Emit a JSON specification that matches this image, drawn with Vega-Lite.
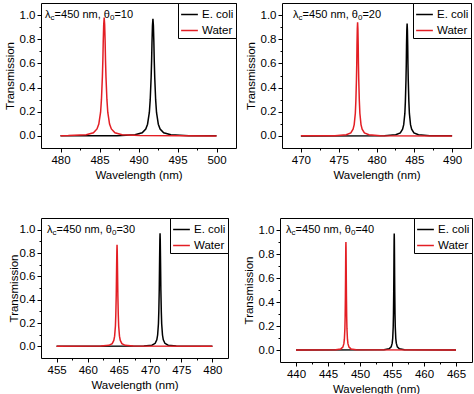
{
  "$schema": "https://vega.github.io/schema/vega-lite/v6.json",
  "padding": {"left": 3, "top": 2, "right": 0, "bottom": 0},
  "config": {
    "font": "Liberation Sans",
    "view": {"stroke": "#000000", "strokeWidth": 1},
    "axis": {"domain": false, "grid": false, "tickColor": "#000000", "tickSize": 4, "tickWidth": 1, "tickCount": 100, "labelFont": "Liberation Sans", "labelFontSize": 11.5, "labelColor": "#000000", "labelPadding": 2, "labelOverlap": false, "titleFont": "Liberation Sans", "titleFontSize": 11.5, "titleFontWeight": "normal", "titleColor": "#000000", "titlePadding": 4},
    "legend": {"labelFont": "Liberation Sans", "labelFontSize": 11.5, "labelColor": "#000000", "symbolType": "stroke", "symbolStrokeWidth": 1.5, "symbolSize": 280, "strokeColor": "#000000", "fillColor": "#ffffff", "padding": 2, "offset": 0, "rowPadding": 1, "labelOffset": 3, "cornerRadius": 0, "labelLimit": 100},
    "line": {"strokeWidth": 1.5},
    "text": {"font": "Liberation Sans", "fontSize": 11, "color": "#000000", "align": "left", "baseline": "middle"}
  },
  "datasets": {
    "p1": [
      {"s": "E. coli", "x": 480, "y": 0.0004}, {"s": "E. coli", "x": 487.25, "y": 0.0024}, {"s": "E. coli", "x": 489.55, "y": 0.0096}, {"s": "E. coli", "x": 490.47, "y": 0.026}, {"s": "E. coli", "x": 490.93, "y": 0.057}, {"s": "E. coli", "x": 491.16, "y": 0.097}, {"s": "E. coli", "x": 491.39, "y": 0.194}, {"s": "E. coli", "x": 491.5, "y": 0.298}, {"s": "E. coli", "x": 491.62, "y": 0.485}, {"s": "E. coli", "x": 491.68, "y": 0.621}, {"s": "E. coli", "x": 491.73, "y": 0.776}, {"s": "E. coli", "x": 491.79, "y": 0.913}, {"s": "E. coli", "x": 491.85, "y": 0.97}, {"s": "E. coli", "x": 491.91, "y": 0.913}, {"s": "E. coli", "x": 491.97, "y": 0.776}, {"s": "E. coli", "x": 492.02, "y": 0.621}, {"s": "E. coli", "x": 492.08, "y": 0.485}, {"s": "E. coli", "x": 492.2, "y": 0.298}, {"s": "E. coli", "x": 492.31, "y": 0.194}, {"s": "E. coli", "x": 492.54, "y": 0.097}, {"s": "E. coli", "x": 492.77, "y": 0.057}, {"s": "E. coli", "x": 493.23, "y": 0.026}, {"s": "E. coli", "x": 494.15, "y": 0.0096}, {"s": "E. coli", "x": 496.45, "y": 0.0024}, {"s": "E. coli", "x": 500, "y": 0.0008},
      {"s": "Water", "x": 480, "y": 0.0017}, {"s": "Water", "x": 481, "y": 0.0025}, {"s": "Water", "x": 483.3, "y": 0.0097}, {"s": "Water", "x": 484.22, "y": 0.026}, {"s": "Water", "x": 484.68, "y": 0.058}, {"s": "Water", "x": 484.91, "y": 0.098}, {"s": "Water", "x": 485.14, "y": 0.196}, {"s": "Water", "x": 485.25, "y": 0.302}, {"s": "Water", "x": 485.37, "y": 0.49}, {"s": "Water", "x": 485.43, "y": 0.627}, {"s": "Water", "x": 485.48, "y": 0.784}, {"s": "Water", "x": 485.54, "y": 0.922}, {"s": "Water", "x": 485.6, "y": 0.98}, {"s": "Water", "x": 485.66, "y": 0.922}, {"s": "Water", "x": 485.72, "y": 0.784}, {"s": "Water", "x": 485.77, "y": 0.627}, {"s": "Water", "x": 485.83, "y": 0.49}, {"s": "Water", "x": 485.95, "y": 0.302}, {"s": "Water", "x": 486.06, "y": 0.196}, {"s": "Water", "x": 486.29, "y": 0.098}, {"s": "Water", "x": 486.52, "y": 0.058}, {"s": "Water", "x": 486.98, "y": 0.026}, {"s": "Water", "x": 487.9, "y": 0.0097}, {"s": "Water", "x": 490.2, "y": 0.0025}, {"s": "Water", "x": 500, "y": 0.0003}
    ],
    "p2": [
      {"s": "E. coli", "x": 470, "y": 0.0001}, {"s": "E. coli", "x": 481.05, "y": 0.0023}, {"s": "E. coli", "x": 482.55, "y": 0.0092}, {"s": "E. coli", "x": 483.15, "y": 0.025}, {"s": "E. coli", "x": 483.45, "y": 0.055}, {"s": "E. coli", "x": 483.6, "y": 0.093}, {"s": "E. coli", "x": 483.75, "y": 0.186}, {"s": "E. coli", "x": 483.82, "y": 0.286}, {"s": "E. coli", "x": 483.9, "y": 0.465}, {"s": "E. coli", "x": 483.94, "y": 0.595}, {"s": "E. coli", "x": 483.97, "y": 0.744}, {"s": "E. coli", "x": 484.01, "y": 0.875}, {"s": "E. coli", "x": 484.05, "y": 0.93}, {"s": "E. coli", "x": 484.09, "y": 0.875}, {"s": "E. coli", "x": 484.13, "y": 0.744}, {"s": "E. coli", "x": 484.16, "y": 0.595}, {"s": "E. coli", "x": 484.2, "y": 0.465}, {"s": "E. coli", "x": 484.28, "y": 0.286}, {"s": "E. coli", "x": 484.35, "y": 0.186}, {"s": "E. coli", "x": 484.5, "y": 0.093}, {"s": "E. coli", "x": 484.65, "y": 0.055}, {"s": "E. coli", "x": 484.95, "y": 0.025}, {"s": "E. coli", "x": 485.55, "y": 0.0092}, {"s": "E. coli", "x": 487.05, "y": 0.0023}, {"s": "E. coli", "x": 490, "y": 0.0006},
      {"s": "Water", "x": 470, "y": 0.0004}, {"s": "Water", "x": 474.5, "y": 0.0023}, {"s": "Water", "x": 476.0, "y": 0.0093}, {"s": "Water", "x": 476.6, "y": 0.025}, {"s": "Water", "x": 476.9, "y": 0.055}, {"s": "Water", "x": 477.05, "y": 0.094}, {"s": "Water", "x": 477.2, "y": 0.188}, {"s": "Water", "x": 477.27, "y": 0.289}, {"s": "Water", "x": 477.35, "y": 0.47}, {"s": "Water", "x": 477.39, "y": 0.602}, {"s": "Water", "x": 477.42, "y": 0.752}, {"s": "Water", "x": 477.46, "y": 0.885}, {"s": "Water", "x": 477.5, "y": 0.94}, {"s": "Water", "x": 477.54, "y": 0.885}, {"s": "Water", "x": 477.58, "y": 0.752}, {"s": "Water", "x": 477.61, "y": 0.602}, {"s": "Water", "x": 477.65, "y": 0.47}, {"s": "Water", "x": 477.73, "y": 0.289}, {"s": "Water", "x": 477.8, "y": 0.188}, {"s": "Water", "x": 477.95, "y": 0.094}, {"s": "Water", "x": 478.1, "y": 0.055}, {"s": "Water", "x": 478.4, "y": 0.025}, {"s": "Water", "x": 479.0, "y": 0.0093}, {"s": "Water", "x": 480.5, "y": 0.0023}, {"s": "Water", "x": 490, "y": 0.0001}
    ],
    "p3": [
      {"s": "E. coli", "x": 455, "y": 0.0001}, {"s": "E. coli", "x": 469.0, "y": 0.0024}, {"s": "E. coli", "x": 470.3, "y": 0.0095}, {"s": "E. coli", "x": 470.82, "y": 0.026}, {"s": "E. coli", "x": 471.08, "y": 0.056}, {"s": "E. coli", "x": 471.21, "y": 0.097}, {"s": "E. coli", "x": 471.34, "y": 0.194}, {"s": "E. coli", "x": 471.4, "y": 0.298}, {"s": "E. coli", "x": 471.47, "y": 0.485}, {"s": "E. coli", "x": 471.5, "y": 0.621}, {"s": "E. coli", "x": 471.535, "y": 0.776}, {"s": "E. coli", "x": 471.57, "y": 0.913}, {"s": "E. coli", "x": 471.6, "y": 0.97}, {"s": "E. coli", "x": 471.63, "y": 0.913}, {"s": "E. coli", "x": 471.665, "y": 0.776}, {"s": "E. coli", "x": 471.7, "y": 0.621}, {"s": "E. coli", "x": 471.73, "y": 0.485}, {"s": "E. coli", "x": 471.8, "y": 0.298}, {"s": "E. coli", "x": 471.86, "y": 0.194}, {"s": "E. coli", "x": 471.99, "y": 0.097}, {"s": "E. coli", "x": 472.12, "y": 0.056}, {"s": "E. coli", "x": 472.38, "y": 0.026}, {"s": "E. coli", "x": 472.9, "y": 0.0095}, {"s": "E. coli", "x": 474.2, "y": 0.0024}, {"s": "E. coli", "x": 480, "y": 0.0002},
      {"s": "Water", "x": 455, "y": 0.0002}, {"s": "Water", "x": 462.1, "y": 0.0022}, {"s": "Water", "x": 463.4, "y": 0.0086}, {"s": "Water", "x": 463.92, "y": 0.0235}, {"s": "Water", "x": 464.18, "y": 0.051}, {"s": "Water", "x": 464.31, "y": 0.087}, {"s": "Water", "x": 464.44, "y": 0.174}, {"s": "Water", "x": 464.5, "y": 0.268}, {"s": "Water", "x": 464.57, "y": 0.435}, {"s": "Water", "x": 464.6, "y": 0.557}, {"s": "Water", "x": 464.635, "y": 0.696}, {"s": "Water", "x": 464.67, "y": 0.819}, {"s": "Water", "x": 464.7, "y": 0.87}, {"s": "Water", "x": 464.73, "y": 0.819}, {"s": "Water", "x": 464.765, "y": 0.696}, {"s": "Water", "x": 464.8, "y": 0.557}, {"s": "Water", "x": 464.83, "y": 0.435}, {"s": "Water", "x": 464.9, "y": 0.268}, {"s": "Water", "x": 464.96, "y": 0.174}, {"s": "Water", "x": 465.09, "y": 0.087}, {"s": "Water", "x": 465.22, "y": 0.051}, {"s": "Water", "x": 465.48, "y": 0.0235}, {"s": "Water", "x": 466.0, "y": 0.0086}, {"s": "Water", "x": 467.3, "y": 0.0022}, {"s": "Water", "x": 480, "y": 0.0001}
    ],
    "p4": [
      {"s": "E. coli", "x": 440, "y": 0.0}, {"s": "E. coli", "x": 453.75, "y": 0.0024}, {"s": "E. coli", "x": 454.55, "y": 0.0096}, {"s": "E. coli", "x": 454.87, "y": 0.026}, {"s": "E. coli", "x": 455.03, "y": 0.057}, {"s": "E. coli", "x": 455.11, "y": 0.097}, {"s": "E. coli", "x": 455.19, "y": 0.194}, {"s": "E. coli", "x": 455.23, "y": 0.298}, {"s": "E. coli", "x": 455.27, "y": 0.485}, {"s": "E. coli", "x": 455.29, "y": 0.621}, {"s": "E. coli", "x": 455.31, "y": 0.776}, {"s": "E. coli", "x": 455.33, "y": 0.913}, {"s": "E. coli", "x": 455.35, "y": 0.97}, {"s": "E. coli", "x": 455.37, "y": 0.913}, {"s": "E. coli", "x": 455.39, "y": 0.776}, {"s": "E. coli", "x": 455.41, "y": 0.621}, {"s": "E. coli", "x": 455.43, "y": 0.485}, {"s": "E. coli", "x": 455.47, "y": 0.298}, {"s": "E. coli", "x": 455.51, "y": 0.194}, {"s": "E. coli", "x": 455.59, "y": 0.097}, {"s": "E. coli", "x": 455.67, "y": 0.057}, {"s": "E. coli", "x": 455.83, "y": 0.026}, {"s": "E. coli", "x": 456.15, "y": 0.0096}, {"s": "E. coli", "x": 456.95, "y": 0.0024}, {"s": "E. coli", "x": 465, "y": 0.0001},
      {"s": "Water", "x": 440, "y": 0.0001}, {"s": "Water", "x": 446.2, "y": 0.0022}, {"s": "Water", "x": 447.0, "y": 0.0089}, {"s": "Water", "x": 447.32, "y": 0.024}, {"s": "Water", "x": 447.48, "y": 0.053}, {"s": "Water", "x": 447.56, "y": 0.09}, {"s": "Water", "x": 447.64, "y": 0.18}, {"s": "Water", "x": 447.68, "y": 0.277}, {"s": "Water", "x": 447.72, "y": 0.45}, {"s": "Water", "x": 447.74, "y": 0.576}, {"s": "Water", "x": 447.76, "y": 0.72}, {"s": "Water", "x": 447.78, "y": 0.847}, {"s": "Water", "x": 447.8, "y": 0.9}, {"s": "Water", "x": 447.82, "y": 0.847}, {"s": "Water", "x": 447.84, "y": 0.72}, {"s": "Water", "x": 447.86, "y": 0.576}, {"s": "Water", "x": 447.88, "y": 0.45}, {"s": "Water", "x": 447.92, "y": 0.277}, {"s": "Water", "x": 447.96, "y": 0.18}, {"s": "Water", "x": 448.04, "y": 0.09}, {"s": "Water", "x": 448.12, "y": 0.053}, {"s": "Water", "x": 448.28, "y": 0.024}, {"s": "Water", "x": 448.6, "y": 0.0089}, {"s": "Water", "x": 449.4, "y": 0.0022}, {"s": "Water", "x": 465, "y": 0.0}
    ]
  },
  "spacing": 35,
  "resolve": {"scale": {"color": "independent", "x": "independent", "y": "independent"}, "legend": {"color": "independent"}},
  "vconcat": [
    {
      "spacing": 7,
      "resolve": {"scale": {"color": "independent", "x": "independent", "y": "independent"}, "legend": {"color": "independent"}},
      "hconcat": [
        {
          "width": 195, "height": 145,
          "layer": [
            {"data": {"name": "p1"}, "mark": {"type": "line", "clip": true},
             "encoding": {
               "x": {"field": "x", "type": "quantitative", "scale": {"domain": [477.5, 502.5], "nice": false, "zero": false},
                     "axis": {"title": "Wavelength (nm)", "tickCount": 100, "labelOverlap": false, "values": [480, 482.5, 485, 487.5, 490, 492.5, 495, 497.5, 500], "labelExpr": "datum.value % 5 == 0 ? format(datum.value, '.0f') : ''", "tickSize": {"condition": {"test": "datum.value % 5 != 0", "value": 2}, "value": 4}}},
               "y": {"field": "y", "type": "quantitative", "scale": {"domain": [-0.1, 1.1], "nice": false, "zero": false},
                     "axis": {"title": "Transmission", "tickCount": 100, "labelOverlap": false, "values": [0, 0.1, 0.2, 0.3, 0.4, 0.5, 0.6, 0.7, 0.8, 0.9, 1.0], "labelExpr": "round(datum.value*10) % 2 == 0 ? format(datum.value, '.1f') : ''", "tickSize": {"condition": {"test": "round(datum.value*10) % 2 == 1", "value": 2}, "value": 4}}},
               "color": {"field": "s", "type": "nominal", "scale": {"domain": ["E. coli", "Water"], "range": ["#000000", "#e31e24"]}, "legend": {"title": null, "orient": "top-right"}}
             }},
            {"data": {"values": [{}]}, "mark": {"type": "text", "text": "λ", "dx": 4}, "encoding": {"x": {"datum": 477.5}, "y": {"datum": 1}}},
            {"data": {"values": [{}]}, "mark": {"type": "text", "text": "c", "fontSize": 8, "dx": 9.6, "dy": 3}, "encoding": {"x": {"datum": 477.5}, "y": {"datum": 1}}},
            {"data": {"values": [{}]}, "mark": {"type": "text", "text": "=450 nm, θ", "dx": 13.6}, "encoding": {"x": {"datum": 477.5}, "y": {"datum": 1}}},
            {"data": {"values": [{}]}, "mark": {"type": "text", "text": "0", "fontSize": 8, "dx": 68.9, "dy": 3}, "encoding": {"x": {"datum": 477.5}, "y": {"datum": 1}}},
            {"data": {"values": [{}]}, "mark": {"type": "text", "text": "=10", "dx": 73.4}, "encoding": {"x": {"datum": 477.5}, "y": {"datum": 1}}}
          ]
        },
        {
          "width": 189, "height": 145,
          "layer": [
            {"data": {"name": "p2"}, "mark": {"type": "line", "clip": true},
             "encoding": {
               "x": {"field": "x", "type": "quantitative", "scale": {"domain": [467.5, 492.5], "nice": false, "zero": false},
                     "axis": {"title": "Wavelength (nm)", "tickCount": 100, "labelOverlap": false, "values": [470, 472.5, 475, 477.5, 480, 482.5, 485, 487.5, 490], "labelExpr": "datum.value % 5 == 0 ? format(datum.value, '.0f') : ''", "tickSize": {"condition": {"test": "datum.value % 5 != 0", "value": 2}, "value": 4}}},
               "y": {"field": "y", "type": "quantitative", "scale": {"domain": [-0.1, 1.1], "nice": false, "zero": false},
                     "axis": {"title": "Transmission", "tickCount": 100, "labelOverlap": false, "values": [0, 0.1, 0.2, 0.3, 0.4, 0.5, 0.6, 0.7, 0.8, 0.9, 1.0], "labelExpr": "round(datum.value*10) % 2 == 0 ? format(datum.value, '.1f') : ''", "tickSize": {"condition": {"test": "round(datum.value*10) % 2 == 1", "value": 2}, "value": 4}}},
               "color": {"field": "s", "type": "nominal", "scale": {"domain": ["E. coli", "Water"], "range": ["#000000", "#e31e24"]}, "legend": {"title": null, "orient": "top-right"}}
             }},
            {"data": {"values": [{}]}, "mark": {"type": "text", "text": "λ", "dx": 11}, "encoding": {"x": {"datum": 467.5}, "y": {"datum": 1}}},
            {"data": {"values": [{}]}, "mark": {"type": "text", "text": "c", "fontSize": 8, "dx": 16.6, "dy": 3}, "encoding": {"x": {"datum": 467.5}, "y": {"datum": 1}}},
            {"data": {"values": [{}]}, "mark": {"type": "text", "text": "=450 nm, θ", "dx": 20.6}, "encoding": {"x": {"datum": 467.5}, "y": {"datum": 1}}},
            {"data": {"values": [{}]}, "mark": {"type": "text", "text": "0", "fontSize": 8, "dx": 75.9, "dy": 3}, "encoding": {"x": {"datum": 467.5}, "y": {"datum": 1}}},
            {"data": {"values": [{}]}, "mark": {"type": "text", "text": "=20", "dx": 80.4}, "encoding": {"x": {"datum": 467.5}, "y": {"datum": 1}}}
          ]
        }
      ]
    },
    {
      "spacing": 13,
      "resolve": {"scale": {"color": "independent", "x": "independent", "y": "independent"}, "legend": {"color": "independent"}},
      "hconcat": [
        {
          "width": 187, "height": 140,
          "layer": [
            {"data": {"name": "p3"}, "mark": {"type": "line", "clip": true},
             "encoding": {
               "x": {"field": "x", "type": "quantitative", "scale": {"domain": [452.5, 482.5], "nice": false, "zero": false},
                     "axis": {"title": "Wavelength (nm)", "tickCount": 100, "labelOverlap": false, "values": [455, 457.5, 460, 462.5, 465, 467.5, 470, 472.5, 475, 477.5, 480], "labelExpr": "datum.value % 5 == 0 ? format(datum.value, '.0f') : ''", "tickSize": {"condition": {"test": "datum.value % 5 != 0", "value": 2}, "value": 4}}},
               "y": {"field": "y", "type": "quantitative", "scale": {"domain": [-0.1, 1.1], "nice": false, "zero": false},
                     "axis": {"title": "Transmission", "titlePadding": 0, "tickCount": 100, "labelOverlap": false, "values": [0, 0.1, 0.2, 0.3, 0.4, 0.5, 0.6, 0.7, 0.8, 0.9, 1.0], "labelExpr": "round(datum.value*10) % 2 == 0 ? format(datum.value, '.1f') : ''", "tickSize": {"condition": {"test": "round(datum.value*10) % 2 == 1", "value": 2}, "value": 4}}},
               "color": {"field": "s", "type": "nominal", "scale": {"domain": ["E. coli", "Water"], "range": ["#000000", "#e31e24"]}, "legend": {"title": null, "orient": "top-right"}}
             }},
            {"data": {"values": [{}]}, "mark": {"type": "text", "text": "λ", "dx": 6}, "encoding": {"x": {"datum": 452.5}, "y": {"datum": 1}}},
            {"data": {"values": [{}]}, "mark": {"type": "text", "text": "c", "fontSize": 8, "dx": 11.6, "dy": 3}, "encoding": {"x": {"datum": 452.5}, "y": {"datum": 1}}},
            {"data": {"values": [{}]}, "mark": {"type": "text", "text": "=450 nm, θ", "dx": 15.6}, "encoding": {"x": {"datum": 452.5}, "y": {"datum": 1}}},
            {"data": {"values": [{}]}, "mark": {"type": "text", "text": "0", "fontSize": 8, "dx": 70.9, "dy": 3}, "encoding": {"x": {"datum": 452.5}, "y": {"datum": 1}}},
            {"data": {"values": [{}]}, "mark": {"type": "text", "text": "=30", "dx": 75.4}, "encoding": {"x": {"datum": 452.5}, "y": {"datum": 1}}}
          ]
        },
        {
          "width": 192, "height": 144,
          "layer": [
            {"data": {"name": "p4"}, "mark": {"type": "line", "clip": true},
             "encoding": {
               "x": {"field": "x", "type": "quantitative", "scale": {"domain": [437.5, 467.5], "nice": false, "zero": false},
                     "axis": {"title": "Wavelength (nm)", "tickCount": 100, "labelOverlap": false, "values": [440, 442.5, 445, 447.5, 450, 452.5, 455, 457.5, 460, 462.5, 465], "labelExpr": "datum.value % 5 == 0 ? format(datum.value, '.0f') : ''", "tickSize": {"condition": {"test": "datum.value % 5 != 0", "value": 2}, "value": 4}}},
               "y": {"field": "y", "type": "quantitative", "scale": {"domain": [-0.1, 1.1], "nice": false, "zero": false},
                     "axis": {"title": "Transmission", "tickCount": 100, "labelOverlap": false, "values": [0, 0.1, 0.2, 0.3, 0.4, 0.5, 0.6, 0.7, 0.8, 0.9, 1.0], "labelExpr": "round(datum.value*10) % 2 == 0 ? format(datum.value, '.1f') : ''", "tickSize": {"condition": {"test": "round(datum.value*10) % 2 == 1", "value": 2}, "value": 4}}},
               "color": {"field": "s", "type": "nominal", "scale": {"domain": ["E. coli", "Water"], "range": ["#000000", "#e31e24"]}, "legend": {"title": null, "orient": "top-right"}}
             }},
            {"data": {"values": [{}]}, "mark": {"type": "text", "text": "λ", "dx": 6}, "encoding": {"x": {"datum": 437.5}, "y": {"datum": 1}}},
            {"data": {"values": [{}]}, "mark": {"type": "text", "text": "c", "fontSize": 8, "dx": 11.6, "dy": 3}, "encoding": {"x": {"datum": 437.5}, "y": {"datum": 1}}},
            {"data": {"values": [{}]}, "mark": {"type": "text", "text": "=450 nm, θ", "dx": 15.6}, "encoding": {"x": {"datum": 437.5}, "y": {"datum": 1}}},
            {"data": {"values": [{}]}, "mark": {"type": "text", "text": "0", "fontSize": 8, "dx": 70.9, "dy": 3}, "encoding": {"x": {"datum": 437.5}, "y": {"datum": 1}}},
            {"data": {"values": [{}]}, "mark": {"type": "text", "text": "=40", "dx": 75.4}, "encoding": {"x": {"datum": 437.5}, "y": {"datum": 1}}}
          ]
        }
      ]
    }
  ]
}
